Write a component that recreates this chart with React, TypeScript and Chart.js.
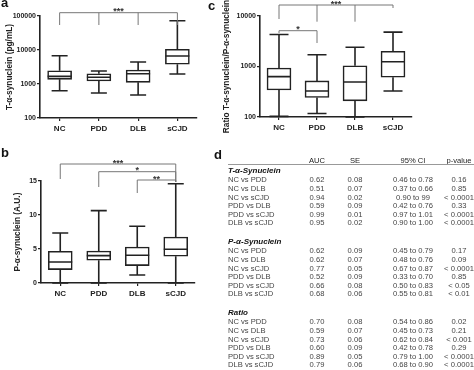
import React, { useEffect, useRef } from 'react';
import { Chart, registerables } from 'chart.js';
Chart.register(...registerables);

const FONT = 'Arial, "Liberation Sans", Helvetica, sans-serif';
Chart.defaults.font.family = FONT;
const INK = '#222';
const GRAY = '#777';

// categories
const groups = ['NC', 'PDD', 'DLB', 'sCJD'];

// panel a: T-α-synuclein (pg/mL)
const tMin = [635, 545, 475, 1970];
const tQ1 = [1375, 1225, 1120, 3800];
const tMed = [1680, 1575, 2000, 6650];
const tQ3 = [2460, 2000, 2580, 10500];
const tMax = [6800, 2400, 4440, 72700];
const tTicks = [100, 1000, 10000, 100000];

// panel b: P-α-synuclein (A.U.)
const pMin = [0, 0, 1.18, 0];
const pQ1 = [1.97, 3.34, 2.56, 3.93];
const pMed = [3.09, 4.03, 4.07, 4.96];
const pQ3 = [4.66, 4.7, 5.29, 6.76];
const pMax = [7.35, 10.65, 8.34, 14.6];
const pTicks = [0, 5, 10, 15];

// panel c: ratio T/P
const rMin = [103, 117, 100, 327];
const rQ1 = [342, 244, 209, 614];
const rMed = [630, 327, 494, 1240];
const rQ3 = [930, 518, 1030, 2000];
const rMax = [4300, 1710, 2400, 4790];
const rTicks = [100, 1000, 10000];

// significance brackets: from/to category index, text
const aSig = [{ from: 0, to: 3, text: '***' }];
const bSig = [
  { from: 0, to: 3, text: '***' },
  { from: 1, to: 3, text: '*' },
  { from: 2, to: 3, text: '**' },
];
const cSig = [
  { from: 0, to: 3, text: '***' },
  { from: 0, to: 1, text: '*' },
];

// panel d table
const comparisons = ['NC vs PDD', 'NC vs DLB', 'NC vs sCJD', 'PDD vs DLB', 'PDD vs sCJD', 'DLB vs sCJD'];
const headers = ['AUC', 'SE', '95% CI', 'p-value'];
const tAUC = ['0.62', '0.51', '0.94', '0.59', '0.99', '0.95'];
const tSE = ['0.08', '0.07', '0.02', '0.09', '0.01', '0.02'];
const tCI = ['0.46 to 0.78', '0.37 to 0.66', '0.90 to 99', '0.42 to 0.76', '0.97 to 1.01', '0.90 to 1.00'];
const tP = ['0.16', '0.85', '< 0.0001', '0.33', '< 0.0001', '< 0.0001'];
const pAUC = ['0.62', '0.62', '0.77', '0.52', '0.66', '0.68'];
const pSE = ['0.09', '0.07', '0.05', '0.09', '0.08', '0.06'];
const pCI = ['0.45 to 0.79', '0.48 to 0.76', '0.67 to 0.87', '0.33 to 0.70', '0.50 to 0.83', '0.55 to 0.81'];
const pP = ['0.17', '0.09', '< 0.0001', '0.85', '< 0.05', '< 0.01'];
const rAUC = ['0.70', '0.59', '0.73', '0.60', '0.89', '0.79'];
const rSE = ['0.08', '0.07', '0.06', '0.09', '0.05', '0.06'];
const rCI = ['0.54 to 0.86', '0.45 to 0.73', '0.62 to 0.84', '0.42 to 0.78', '0.79 to 1.00', '0.68 to 0.90'];
const rP = ['0.02', '0.21', '< 0.001', '0.29', '< 0.0001', '< 0.0001'];

const boxPlugin = {
  id: 'boxWhisker',
  afterDatasetsDraw(chart: any, _a: any, opts: any) {
    const meta = chart.getDatasetMeta(0);
    const ys = chart.scales.y;
    const ctx = chart.ctx;
    ctx.save();
    ctx.strokeStyle = INK;
    ctx.lineWidth = 1.6;
    ctx.lineCap = 'butt';
    meta.data.forEach((el: any, i: number) => {
      const cx = el.x;
      const hw = el.width / 2;
      const yMax = ys.getPixelForValue(opts.max[i]);
      const yMin = ys.getPixelForValue(opts.min[i]);
      const yQ1 = ys.getPixelForValue(opts.q1[i]);
      const yQ3 = ys.getPixelForValue(opts.q3[i]);
      const yMed = ys.getPixelForValue(opts.med[i]);
      ctx.beginPath();
      ctx.moveTo(cx, yQ3); ctx.lineTo(cx, yMax);
      ctx.moveTo(cx, yQ1); ctx.lineTo(cx, yMin);
      ctx.moveTo(cx - opts.cap, yMax); ctx.lineTo(cx + opts.cap, yMax);
      ctx.moveTo(cx - opts.cap, yMin); ctx.lineTo(cx + opts.cap, yMin);
      ctx.moveTo(cx - hw, yMed); ctx.lineTo(cx + hw, yMed);
      ctx.stroke();
    });
    ctx.restore();
  },
};

const bracketPlugin = {
  id: 'brackets',
  afterDraw(chart: any, _a: any, opts: any) {
    const xs = chart.scales.x;
    const top = chart.chartArea.top;
    const ctx = chart.ctx;
    ctx.save();
    ctx.strokeStyle = GRAY;
    ctx.lineWidth = 1;
    ctx.fillStyle = '#333';
    ctx.font = 'bold 9px ' + FONT;
    ctx.textAlign = 'center';
    ctx.textBaseline = 'alphabetic';
    opts.items.forEach((b: any, k: number) => {
      const geo = opts.geo[k];
      const x1 = xs.getPixelForValue(b.from);
      const x2 = xs.getPixelForValue(b.to);
      const y = top + geo.y;
      ctx.beginPath();
      ctx.moveTo(x1, y); ctx.lineTo(x2, y);
      geo.drops.forEach((d: number[]) => {
        const x = xs.getPixelForValue(d[0]);
        ctx.moveTo(x, y); ctx.lineTo(x, top + d[1]);
      });
      ctx.stroke();
      ctx.fillText(b.text, (x1 + x2) / 2, y + 1.5);
    });
    ctx.restore();
  },
};

function buildConfig(p: any) {
  return {
    type: 'bar',
    data: {
      labels: groups,
      datasets: [{
        data: p.q1.map((v: number, i: number) => [v, p.q3[i]]),
        backgroundColor: '#ffffff',
        borderColor: INK,
        borderWidth: 1.6,
        borderSkipped: false,
        barThickness: 24,
      }],
    },
    options: {
      responsive: false,
      animation: false,
      devicePixelRatio: 1,
      layout: { padding: { top: p.padTop, right: p.padRight, bottom: 0, left: 0 } },
      plugins: {
        legend: { display: false },
        tooltip: { enabled: false },
        boxWhisker: { min: p.min, q1: p.q1, med: p.med, q3: p.q3, max: p.max, cap: p.cap },
        brackets: { items: p.sig, geo: p.sigGeo },
      },
      scales: {
        x: {
          type: 'category',
          offset: true,
          grid: { display: true, drawOnChartArea: false, offset: false, tickLength: 3, color: INK, lineWidth: 1.2 },
          border: { display: true, color: INK, width: 1.6 },
          ticks: { color: INK, font: { size: 8, weight: 'bold' }, padding: 3, maxRotation: 0, minRotation: 0, autoSkip: false },
          afterFit: (s: any) => { s.height = p.xHeight; },
        },
        y: {
          type: p.log ? 'logarithmic' : 'linear',
          min: p.ticks[0],
          max: p.ticks[p.ticks.length - 1],
          grid: { display: true, drawOnChartArea: false, tickLength: 3, color: INK, lineWidth: 1.2 },
          border: { display: true, color: INK, width: 1.6 },
          ticks: { color: INK, font: { size: 7, weight: 'bold' }, padding: 1, callback: (v: any) => String(v) },
          afterBuildTicks: (s: any) => { s.ticks = p.ticks.map((v: number) => ({ value: v })); },
          afterFit: (s: any) => { s.width = p.yWidth; },
          title: {
            display: true,
            text: p.yTitle,
            color: INK,
            font: { size: 8.3, weight: 'bold' },
            padding: { top: p.titlePad, bottom: 0 },
          },
        },
      },
    },
    plugins: [boxPlugin, bracketPlugin],
  };
}

function BoxChart(props: any) {
  const ref = useRef<HTMLCanvasElement>(null);
  useEffect(() => {
    if (!ref.current) return;
    const chart = new Chart(ref.current, buildConfig(props.cfg) as any);
    return () => chart.destroy();
  }, []);
  return (
    <canvas
      ref={ref}
      width={props.w}
      height={props.h}
      style={{ position: 'absolute', left: props.x, top: props.y, width: props.w, height: props.h }}
    />
  );
}

const cfgA = {
  min: tMin, q1: tQ1, med: tMed, q3: tQ3, max: tMax, ticks: tTicks, log: true,
  yTitle: 'T-α-synuclein (pg/mL)', titlePad: 5, yWidth: 40, xHeight: 22, padTop: 16, padRight: 28, cap: 8,
  sig: aSig,
  sigGeo: [{ y: -3.3, drops: [[0, 9], [1, 9], [2, 9], [3, 9]] }],
};
const cfgB = {
  min: pMin, q1: pQ1, med: pMed, q3: pQ3, max: pMax, ticks: pTicks, log: false,
  yTitle: 'P-α-synuclein (A.U.)', titlePad: 13, yWidth: 41, xHeight: 22, padTop: 31, padRight: 30, cap: 8,
  sig: bSig,
  sigGeo: [
    { y: -17, drops: [[0, -2], [3, 1]] },
    { y: -9.3, drops: [[1, 6], [3, 1]] },
    { y: -1, drops: [[2, 12], [3, 1]] },
  ],
};
const cfgC = {
  min: rMin, q1: rQ1, med: rMed, q3: rQ3, max: rMax, ticks: rTicks, log: true,
  yTitle: 'Ratio T-α-synuclein/P-α-synuclein', titlePad: 7, yWidth: 45, xHeight: 23, padTop: 16, padRight: 62, cap: 9.5,
  sig: cSig,
  sigGeo: [
    { y: -11, drops: [[0, 3], [1, 5.7], [2, 5.7], [3, -8]] },
    { y: 14.7, drops: [[0, 17], [1, 27]] },
  ],
};

const COLS = [317, 355, 413, 459];
const LABEL_X = 228;
const ROW_H = 8.6;

function Txt(props: any) {
  const { x, y, align, style, children } = props;
  const tx = align === 'center' ? '-50%' : '0';
  return (
    <div
      style={{
        position: 'absolute', left: x, top: y, transform: `translate(${tx}, -50%)`,
        whiteSpace: 'nowrap', lineHeight: 1, fontSize: 7.6, color: '#444', ...style,
      }}
    >
      {children}
    </div>
  );
}

function Table() {
  const sections = [
    { title: 'T-α-Synuclein', vals: [tAUC, tSE, tCI, tP], y: 171 },
    { title: 'P-α-Synuclein', vals: [pAUC, pSE, pCI, pP], y: 242 },
    { title: 'Ratio', vals: [rAUC, rSE, rCI, rP], y: 313 },
  ];
  const out: any[] = [];
  headers.forEach((h, i) =>
    out.push(<Txt key={'h' + i} x={COLS[i]} y={160.5} align="center" style={{ color: '#222' }}>{h}</Txt>)
  );
  out.push(
    <div key="line" style={{ position: 'absolute', left: LABEL_X, top: 164, width: 474 - LABEL_X, height: 1, background: '#999' }} />
  );
  sections.forEach((s, si) => {
    out.push(
      <Txt key={'t' + si} x={LABEL_X} y={s.y} style={{ fontWeight: 'bold', fontStyle: 'italic', fontSize: 8, color: '#111' }}>
        {s.title}
      </Txt>
    );
    comparisons.forEach((c, ri) => {
      const y = s.y + 9.3 + ri * ROW_H;
      out.push(<Txt key={`l${si}-${ri}`} x={LABEL_X} y={y}>{c}</Txt>);
      s.vals.forEach((col, ci) =>
        out.push(<Txt key={`v${si}-${ri}-${ci}`} x={COLS[ci]} y={y} align="center">{col[ri]}</Txt>)
      );
    });
  });
  return <>{out}</>;
}

const panelLabel = { position: 'absolute' as const, fontWeight: 'bold' as const, fontSize: 13, lineHeight: 1, color: '#111' };

export default function App() {
  return (
    <div
      style={{
        position: 'fixed', left: 0, top: 0, width: 474, height: 370, background: '#fff',
        overflow: 'hidden', fontFamily: FONT,
      }}
    >
      <BoxChart x={0} y={0} w={225} h={140} cfg={cfgA} />
      <BoxChart x={0} y={150} w={225} h={155} cfg={cfgB} />
      <BoxChart x={215} y={0} w={259} h={140} cfg={cfgC} />
      <Table />
      <div style={{ ...panelLabel, left: 1, top: -4 }}>a</div>
      <div style={{ ...panelLabel, left: 1, top: 146 }}>b</div>
      <div style={{ ...panelLabel, left: 208, top: -1.5 }}>c</div>
      <div style={{ ...panelLabel, left: 214, top: 148 }}>d</div>
    </div>
  );
}
